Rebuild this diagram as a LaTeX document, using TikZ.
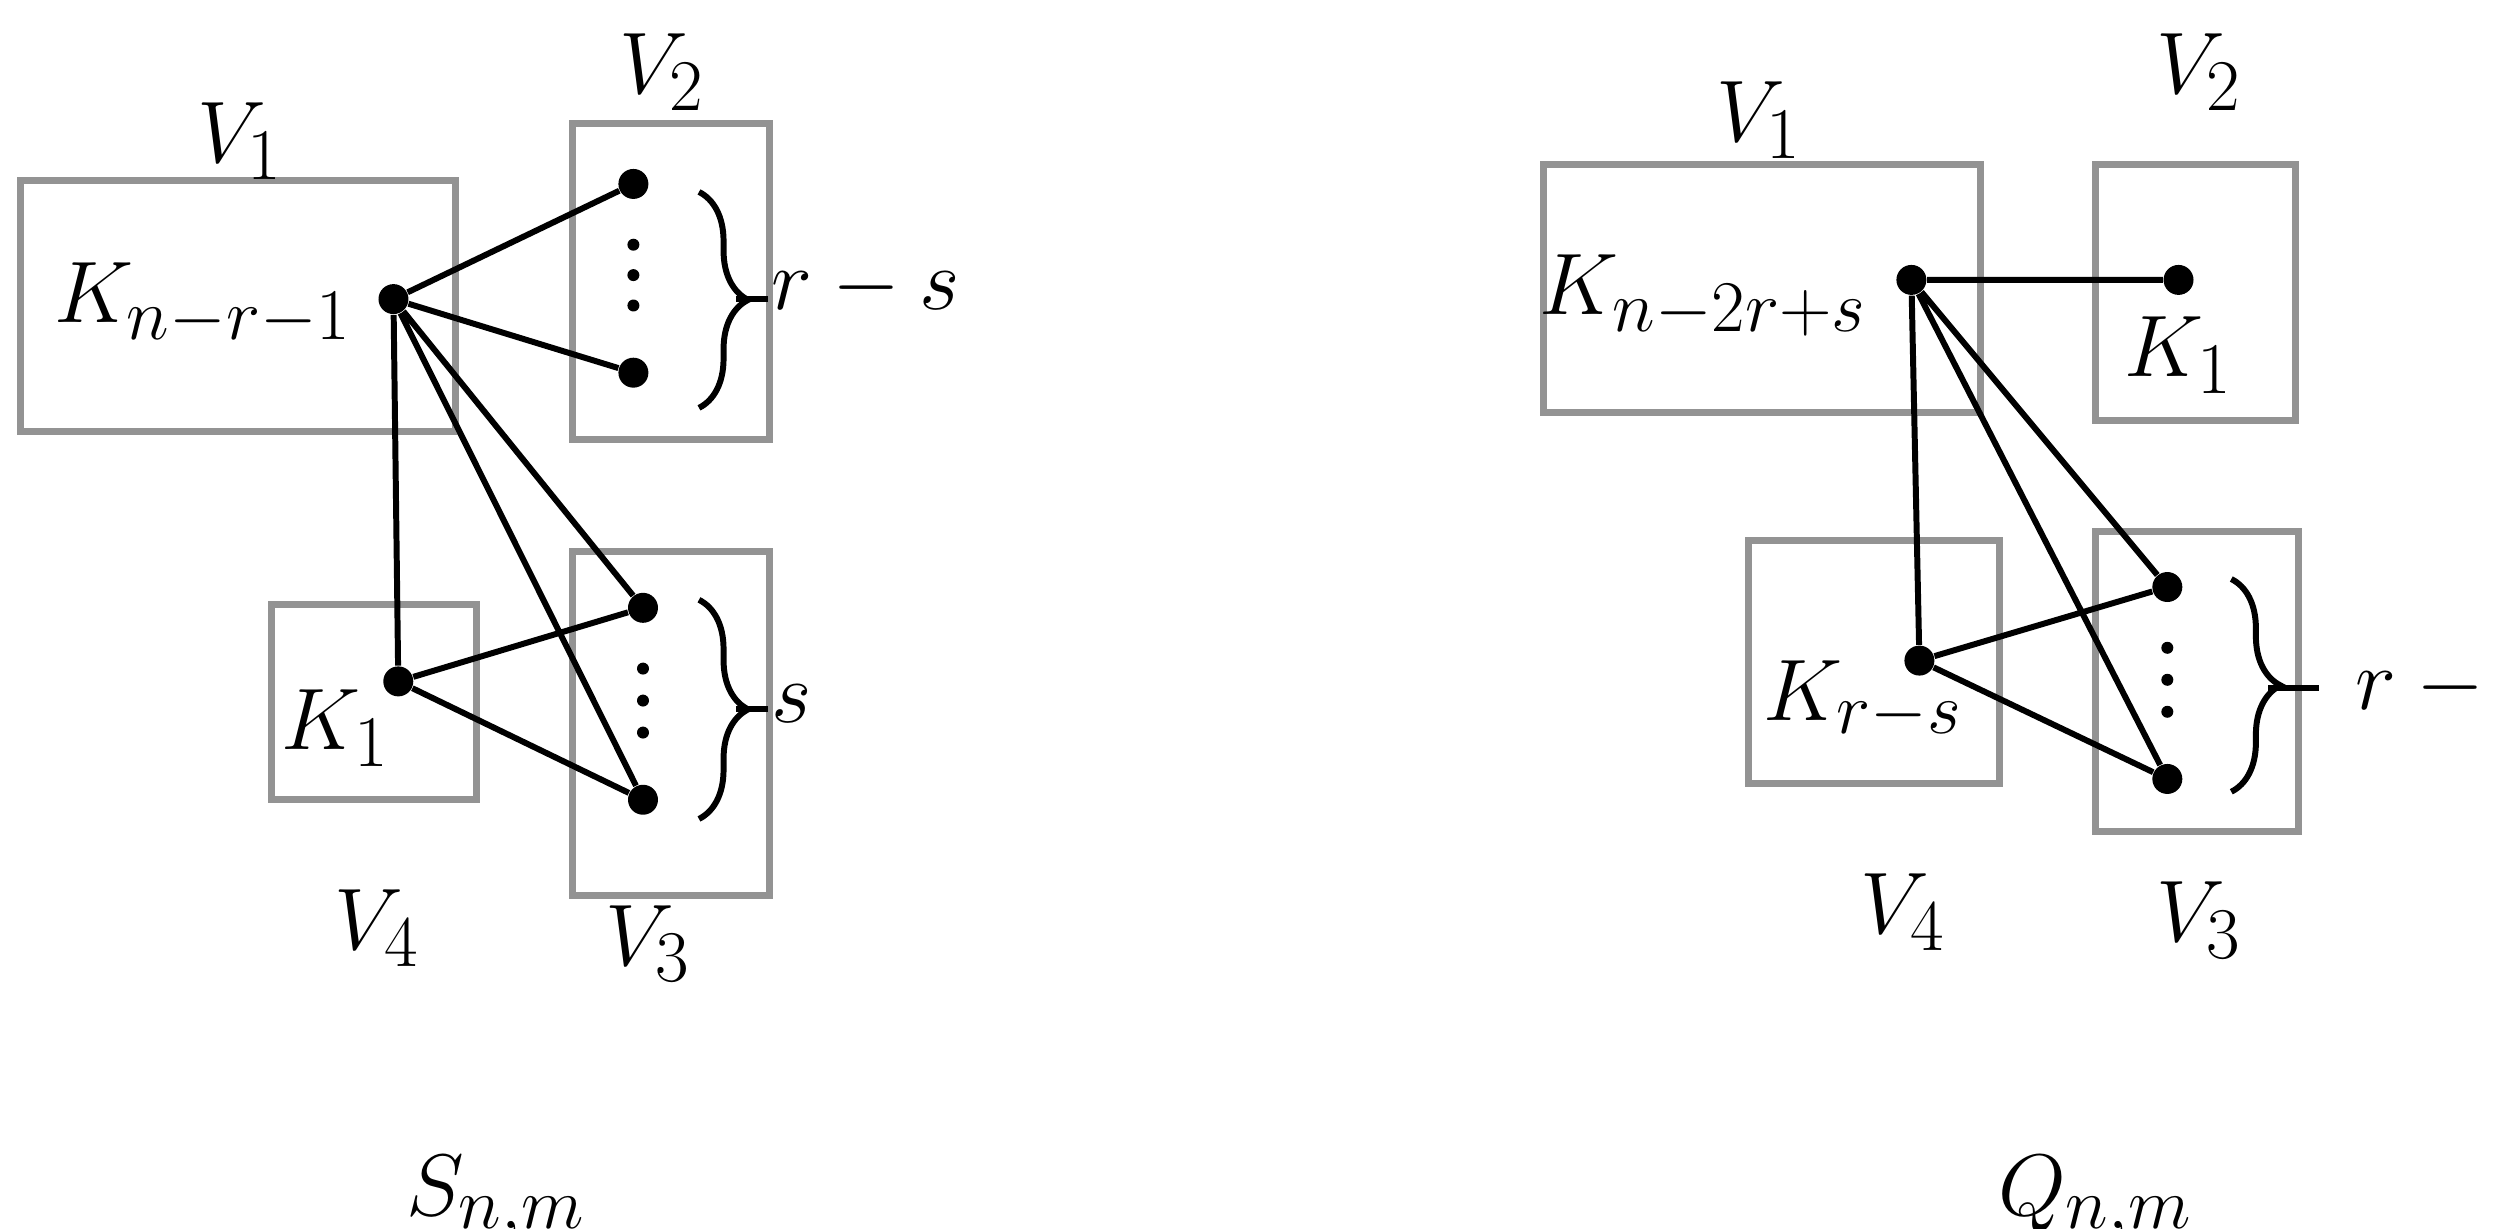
\documentclass[tikz,border=0pt]{standalone}
\usetikzlibrary{decorations.pathreplacing}
\begin{document}
\begin{tikzpicture}[x=0.016cm,y=-0.016cm,
  box/.style={draw=gray!85,line width=2pt},
  vtx/.style={circle,fill=black,inner sep=0pt,minimum size=0.3cm},
  edge/.style={line width=1.7pt},
  lab/.style={font=\fontsize{30}{34}\selectfont},
  brc/.style={line width=1.7pt,decorate,decoration={brace,amplitude=14pt}}]
\useasboundingbox (0,0) rectangle (1563,768);
% left
\draw[box] (13,113) rectangle (285,270);
\draw[box] (358,77) rectangle (481,275);
\draw[box] (358,345) rectangle (481,560);
\draw[box] (170,378) rectangle (298,500);
\node[vtx] (a) at (246,187) {};
\node[vtx] (p) at (396,115) {};
\node[vtx] (q) at (396,233) {};
\node[vtx] (r) at (402,380) {};
\node[vtx] (t) at (402,500) {};
\node[vtx] (k) at (249,426) {};
\foreach \y in {153,172,191}{\fill (396,\y) circle (0.06cm);}
\foreach \y in {418,438,458}{\fill (402,\y) circle (0.06cm);}
\draw[edge] (a)--(p) (a)--(q) (a)--(k) (a)--(r) (a)--(t) (k)--(r) (k)--(t);
\draw[brc] (437,120) -- (437,255);
\draw[brc] (437,375) -- (437,512);
\coordinate (b1t) at (460,187);
\coordinate (b2t) at (460,443);
\coordinate (b1e) at (480,187);
\coordinate (b2e) at (480,443);
\draw[edge] (b1t) -- (b1e);
\draw[edge] (b2t) -- (b2e);
\node[lab,anchor=west,inner sep=1pt] (rs) at (480,180) {$r-s$};
\node[lab,anchor=west,inner sep=1pt] (s) at (480,440) {$s$};
\node[lab] (lv1) at (150,88) {$V_1$};
\node[lab] (lv2) at (414,45) {$V_2$};
\node[lab] (lk) at (127,190) {$K_{n-r-1}$};
\node[lab] (lk1) at (210,455) {$K_1$};
\node[lab] (lv4) at (236,580) {$V_4$};
\node[lab] (lv3) at (405,590) {$V_3$};
\node[lab] (S) at (310,750) {$S_{n,m}$};
% right
\draw[box] (965,103) rectangle (1238,258);
\draw[box] (1310,103) rectangle (1435,263);
\draw[box] (1310,332) rectangle (1437,520);
\draw[box] (1093,338) rectangle (1250,490);
\node[vtx] (B) at (1195,175) {};
\node[vtx] (K) at (1362,175) {};
\node[vtx] (R) at (1355,367) {};
\node[vtx] (T) at (1355,487) {};
\node[vtx] (KR) at (1200,413) {};
\foreach \y in {405,425,445}{\fill (1355,\y) circle (0.06cm);}
\draw[edge] (B)--(K) (B)--(KR) (B)--(R) (B)--(T) (KR)--(R) (KR)--(T);
\draw[brc] (1395,362) -- (1395,495);
\coordinate (b3t) at (1418,430);
\coordinate (b3e) at (1450,430);
\draw[edge] (b3t) -- (b3e);
\node[lab,anchor=west] (r1) at (1465,428) {$r-1$};
\node[lab] (rv1) at (1100,75) {$V_1$};
\node[lab] (rv2) at (1375,45) {$V_2$};
\node[lab] (rk) at (1065,185) {$K_{n-2r+s}$};
\node[lab] (rk1) at (1362,222) {$K_1$};
\node[lab] (rkr) at (1165,438) {$K_{r-s}$};
\node[lab] (rv4) at (1190,570) {$V_4$};
\node[lab] (rv3) at (1375,575) {$V_3$};
\node[lab] (Q) at (1310,750) {$Q_{n,m}$};
\end{tikzpicture}
\end{document}
